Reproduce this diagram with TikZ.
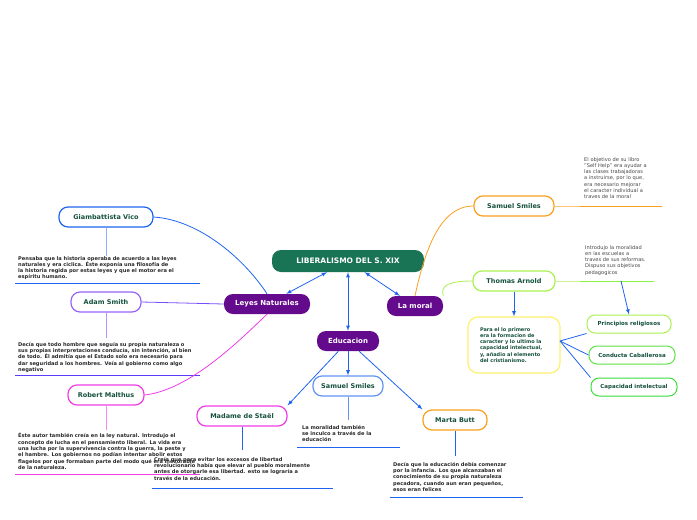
\documentclass[tikz,border=0pt]{standalone}
\usepackage{fontspec}
\setmainfont{DejaVu Sans}
\hyphenpenalty=10000
\begin{document}
\begin{tikzpicture}[x=1pt,y=-1pt,
 main/.style={rounded corners=9pt,minimum height=20pt,text=white,font=\fontsize{7}{8}\selectfont\bfseries,inner sep=2pt},
 sub/.style={draw,line width=1.2pt,rounded corners=9pt,minimum height=20pt,text={rgb,255:red,20;green,80;blue,60},font=\fontsize{6.5}{8}\selectfont\bfseries,inner sep=2pt},
 small/.style={draw,line width=1pt,rounded corners=8pt,minimum height=18pt,text={rgb,255:red,20;green,80;blue,60},font=\fontsize{5.5}{7}\selectfont\bfseries,inner sep=2pt},
 txt/.style={anchor=north west,align=left,font=\fontsize{5.1}{6.3}\selectfont\bfseries,inner sep=0pt,text={rgb,255:red,40;green,40;blue,40}},
 ltxt/.style={anchor=north west,align=left,font=\fontsize{5.1}{6.3}\selectfont,inner sep=0pt,text={rgb,255:red,70;green,70;blue,70}},
 arr/.style={-latex,line width=0.8pt},
 darr/.style={latex-latex,line width=0.8pt}]
\definecolor{cblue}{RGB}{30,100,240}
\definecolor{cpurp}{RGB}{150,100,250}
\definecolor{cmag}{RGB}{240,60,230}
\definecolor{corange}{RGB}{250,160,30}
\definecolor{cgreen}{RGB}{170,240,80}
\definecolor{cgreen2}{RGB}{60,220,60}
\definecolor{cyellow}{RGB}{255,240,110}
\definecolor{dpurp}{RGB}{100,10,140}
\definecolor{dgreen}{RGB}{25,115,85}
\useasboundingbox (0,0) rectangle (697,520);

\node[main,fill=dgreen,minimum width=152pt,minimum height=22pt,font=\fontsize{7.5}{9}\selectfont\bfseries] (t) at (348,261) {LIBERALISMO DEL S. XIX};
\node[main,fill=dpurp,minimum width=86pt] (ley) at (267,304) {Leyes Naturales};
\node[main,fill=dpurp,minimum width=56pt] (mor) at (415,306) {La moral};
\node[main,fill=dpurp,minimum width=62pt] (edu) at (348,341) {Educacion};

\node[sub,draw=cblue,minimum width=94pt] (vico) at (106,217) {Giambattista Vico};
\node[sub,draw=cpurp,minimum width=70pt] (smith) at (106,302) {Adam Smith};
\node[sub,draw=cmag,minimum width=76pt] (mal) at (106,395) {Robert Malthus};
\node[sub,draw=cmag,minimum width=90pt] (stael) at (242,416) {Madame de Staël};
\node[sub,draw=cblue!70,minimum width=70pt] (ss1) at (348,386) {Samuel Smiles};
\node[sub,draw=corange,minimum width=64pt] (butt) at (455,420) {Marta Butt};
\node[sub,draw=corange,minimum width=80pt] (ss2) at (514,206) {Samuel Smiles};
\node[sub,draw=cgreen,minimum width=82pt] (arn) at (514,281) {Thomas Arnold};
\node[draw=cyellow,line width=1.2pt,rounded corners=10pt,minimum width=92pt,minimum height=56pt,text width=68pt,align=left,font=\fontsize{5}{6.2}\selectfont\bfseries,text={rgb,255:red,20;green,80;blue,60}] (yb) at (514,345) {Para el lo primero era la formacion de caracter y lo ultimo la capacidad intelectual, y, añadio al elemento del cristianismo.};
\node[small,draw=cgreen,minimum width=84pt] (pr) at (629,324) {Principios religiosos};
\node[small,draw=cgreen2!70!cgreen,minimum width=86pt] (cc) at (632,355) {Conducta Caballerosa};
\node[small,draw=cgreen2,minimum width=86pt] (ci) at (634,387) {Capacidad intelectual};

% texts
\node[txt,text width=172pt] (tv) at (18,256) {Pensaba que la historia operaba de acuerdo a las leyes naturales y era ciclica. Éste exponía una filosofía de la historia regida por estas leyes y que el motor era el espíritu humano.};
\node[txt,text width=175pt] (tsm) at (18,342) {Decía que todo hombre que seguía su propia naturaleza o sus propias interpretaciones conducía, sin intención, al bien de todo. Él admitía que el Estado solo era necesario para dar seguridad a los hombres. Veía al gobierno como algo negativo};
\node[txt,text width=178pt] (tm) at (18,433) {Éste autor también creía en la ley natural. Introdujo el concepto de lucha en el pensamiento liberal. La vida era una lucha por la supervivencia contra la guerra, la peste y el hambre. Los gobiernos no podían intentar abolir estos flagelos por que formaban parte del modo qué era inexorable de la naturaleza.};
\node[txt,text width=160pt] (tst) at (154,457) {Creía que para evitar los excesos de libertad revolucionario había que elevar al pueblo moralmente antes de otorgarle esa libertad. esto se lograría a través de la educación.};
\node[txt,text width=82pt] (tss1) at (302,425) {La moralidad también se inculco a través de la educación};
\node[txt,text width=122pt] (tb) at (393,462) {Decía que la educación debía comenzar por la infancia. Los que alcanzaban el conocimiento de su propia naturaleza pecadora, cuando aun eran pequeños, esos eran felices};
\node[ltxt,text width=70pt] (tss2) at (584,157) {El objetivo de su libro "Self Help" era ayudar a las clases trabajadoras a instruirse, por lo que, era necesario mejorar el caracter individual a traves de la moral};
\node[ltxt,text width=66pt] (tar) at (585,245) {Introdujo la moralidad en las escuelas a traves de sus reformas. Dispuso sus objetivos pedagogicos};

% underlines
\draw[cblue,line width=0.8pt] (15,283) coordinate (uv1) -- (200,283) coordinate (uv2);
\draw[cpurp!60!blue,line width=0.8pt] (15,375) coordinate (us1) -- (200,375) coordinate (us2);
\draw[cmag,line width=0.8pt] (15,474) coordinate (um1) -- (200,474) coordinate (um2);
\draw[cblue,line width=0.8pt] (152,488) coordinate (ust1) -- (333,488) coordinate (ust2);
\draw[cblue,line width=0.8pt] (297,447) coordinate (uss1) -- (400,447) coordinate (uss2);
\draw[cblue,line width=0.8pt] (390,497) coordinate (ub1) -- (523,497) coordinate (ub2);
\draw[corange,line width=0.8pt] (580,206) coordinate (uo1) -- (662,206) coordinate (uo2);
\draw[cgreen!80!green,line width=0.8pt] (580,281) coordinate (ug1) -- (654,281) coordinate (ug2);

% stems
\draw[cblue!50,line width=0.8pt] (vico.south) -- (106,256);
\draw[cpurp!70,line width=0.8pt] (smith.south) -- (106,338);
\draw[cmag!60,line width=0.8pt] (mal.south) -- (106,430);
\draw[cblue,line width=0.8pt] (stael.south) -- (242,450);
\draw[cblue!70,line width=0.8pt] (ss1.south) -- (348,420);
\draw[cblue,line width=0.8pt] (butt.south) -- (455,456);
\draw[corange!60,line width=0.8pt] (ss2.east) -- (uo1);
\draw[cgreen!60,line width=0.8pt] (arn.east) -- (ug1);

% main connectors
\draw[darr,cblue] (t) -- (ley);
\draw[darr,cblue] (t) -- (mor);
\draw[darr,cblue] (t) -- (edu);
\draw[cblue,line width=0.8pt] (ley.north) .. controls (245,260) and (200,220) .. (vico.east);
\draw[cpurp!80!blue,line width=0.8pt] (ley.west) -- (smith.east);
\draw[cmag,line width=0.8pt] (ley.south) .. controls (240,340) and (190,390) .. (mal.east);
\draw[corange,line width=0.8pt] (mor.north) .. controls (425,250) and (440,206) .. (ss2.west);
\draw[cgreen,line width=0.8pt] (mor.north east) .. controls (440,285) and (450,281) .. (arn.west);
\draw[arr,cblue] (edu) -- (stael.north east);
\draw[arr,cblue] (edu) -- (ss1.north);
\draw[arr,cblue] (edu) -- (butt.north west);
\draw[arr,cblue] (arn.south) -- (yb.north);
\coordinate (ap) at (621,281);
\draw[arr,cblue] (ap) -- (pr.north);
\draw[cblue,line width=0.8pt] (560,341) -- (pr.south west);
\draw[cblue,line width=0.8pt] (560,341) -- (cc.west);
\draw[cblue,line width=0.8pt] (560,341) -- (ci.north west);
\end{tikzpicture}
\end{document}
